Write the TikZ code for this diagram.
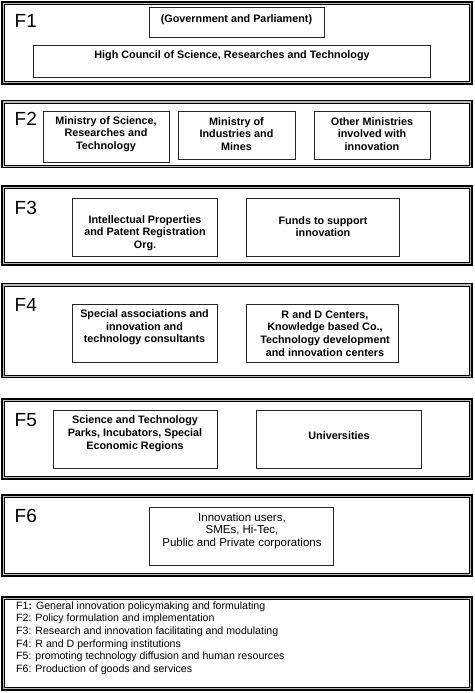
\documentclass[tikz,border=0pt]{standalone}
\usepackage{fontspec}
\setmainfont{Liberation Sans}
\begin{document}
\begin{tikzpicture}[x=1pt,y=-1pt,
  frame/.style={draw=black, line width=1.8pt, fill=gray!55, minimum width=470pt, inner sep=0pt},
  innerframe/.style={draw=black, line width=0.8pt, fill=white},
  box/.style={draw=black!85, line width=0.8pt, inner sep=0pt},
  btxt/.style={font=\fontsize{10.8}{12.6}\selectfont\bfseries, align=center, inner sep=0pt},
  rtxt/.style={font=\fontsize{11.5}{12.5}\selectfont, align=center, inner sep=0pt},
  flab/.style={font=\fontsize{19}{22}\selectfont, anchor=west, inner sep=0pt},
  legtxt/.style={font=\fontsize{10.6}{12.6}\selectfont, align=left, anchor=north west, inner sep=0pt}]
\useasboundingbox (0,0) rectangle (474,693);

% outer frames
\node[frame, minimum height=82pt] (f1) at (237,43) {};
\node[frame, minimum height=67pt] (f2) at (237,134) {};
\node[frame, minimum height=79pt] (f3) at (237,225.5) {};
\node[frame, minimum height=94pt] (f4) at (237,330.5) {};
\node[frame, minimum height=80pt] (f5) at (237,439) {};
\node[frame, minimum height=81pt] (f6) at (237,535.5) {};
\node[frame, minimum height=93pt] (fl) at (237,643.5) {};
\foreach \f in {f1,f2,f3,f4,f5,f6,fl}{
  \draw[innerframe] ([shift={(3.3,3.3)}]\f.north west) rectangle ([shift={(-3.3,-3.3)}]\f.south east);
}

% frame labels
\node[flab] (l1) at (14.5,20.5) {F1};
\node[flab] (l2) at (14.5,118.5) {F2};
\node[flab] (l3) at (14.5,208) {F3};
\node[flab] (l4) at (14.5,304.5) {F4};
\node[flab] (l5) at (14.5,420.5) {F5};
\node[flab] (l6) at (14.5,515.5) {F6};

% F1 boxes
\node[box, minimum width=175pt, minimum height=30pt] (gov) at (236.5,22) {};
\node[btxt] (govt) at (236.5,19.5) {(Government and Parliament)};
\node[box, minimum width=397pt, minimum height=32pt] (hc) at (231.5,61) {};
\node[btxt] (hct) at (232,55.5) {High Council of Science, Researches and Technology};

% F2 boxes
\node[box, minimum width=126pt, minimum height=51pt] (ms) at (106,136.5) {};
\node[btxt] (mst) at (106,134) {Ministry of Science,\\Researches and\\Technology};
\node[box, minimum width=117pt, minimum height=48pt] (mi) at (236.5,135) {};
\node[btxt] (mit) at (236.5,134) {Ministry of\\Industries and\\Mines};
\node[box, minimum width=116pt, minimum height=48pt] (om) at (372,135) {};
\node[btxt] (omt) at (372,134) {Other Ministries\\involved with\\innovation};

% F3 boxes
\node[box, minimum width=145pt, minimum height=58pt] (ip) at (144.5,227) {};
\node[btxt] (ipt) at (145,233) {Intellectual Properties\\and Patent Registration\\Org.};
\node[box, minimum width=153pt, minimum height=58pt] (fu) at (322.5,227) {};
\node[btxt] (fut) at (323,226.8) {Funds to support\\innovation};

% F4 boxes
\node[box, minimum width=145pt, minimum height=58pt] (sa) at (144.5,333) {};
\node[btxt] (sat) at (144.5,327.3) {Special associations and\\innovation and\\technology consultants};
\node[box, minimum width=152pt, minimum height=58pt] (rd) at (322,333) {};
\node[btxt] (rdt) at (325,333.3) {R and D Centers,\\Knowledge based Co.,\\Technology development\\and innovation centers};

% F5 boxes
\node[box, minimum width=164pt, minimum height=58pt] (st) at (135,439) {};
\node[btxt] (stt) at (135,433.8) {Science and Technology\\Parks, Incubators, Special\\Economic Regions};
\node[box, minimum width=165pt, minimum height=58pt] (un) at (338.5,439) {};
\node[btxt] (unt) at (339,436) {Universities};

% F6 box
\node[box, minimum width=184pt, minimum height=58pt] (iu) at (241,536) {};
\node[rtxt] (iut) at (242,531) {Innovation users,\\SMEs, Hi-Tec,\\Public and Private corporations};

% legend
\node[legtxt] (leg) at (16,601.5) {F1\textbf{:} General innovation policymaking and formulating\\
F2: Policy formulation and implementation\\
F3: Research and innovation facilitating and modulating\\
F4: R and D performing institutions\\
F5: promoting technology diffusion and human resources\\
F6: Production of goods and services};
\end{tikzpicture}
\end{document}
